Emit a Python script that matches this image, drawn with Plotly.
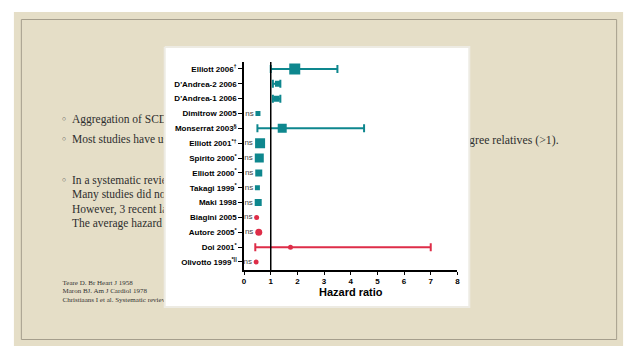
import plotly.graph_objects as go

# ---------------- data ----------------
studies = [
    "Elliott 2006<sup>†</sup>", "D'Andrea-2 2006", "D'Andrea-1 2006", "Dimitrow 2005",
    "Monserrat 2003<sup>§</sup>", "Elliott 2001<sup>*†</sup>", "Spirito 2000<sup>*</sup>",
    "Elliott 2000<sup>*</sup>", "Takagi 1999<sup>*</sup>", "Maki 1998", "Biagini 2005",
    "Autore 2005<sup>*</sup>", "Doi 2001<sup>*</sup>", "Olivotto 1999<sup>*||</sup>",
]
hazard_ratio = [1.9, 1.27, 1.22, 0.52, 1.43, 0.6, 0.57, 0.55, 0.5, 0.53, 0.47, 0.55, 1.74, 0.45]
ci_lower = [1.0, 1.08, 1.08, None, 0.5, None, None, None, None, None, None, None, 0.42, None]
ci_upper = [3.5, 1.36, 1.36, None, 4.5, None, None, None, None, None, None, None, 7.0, None]
study_group = ["A"] * 10 + ["B"] * 4
study_weight = [11, 6, 6, 5, 9, 10, 9, 7, 5, 7, 5, 7, 5, 5]
x_ticks = [0, 1, 2, 3, 4, 5, 6, 7, 8]

bullet_lines = ["Aggregation of SCD in", "Most studies have used", "In a systematic review"]
body_lines = ["Many studies did not", "However, 3 recent large", "The average hazard ratio"]
right_fragment = "first-degree relatives (>1)."
references = ["Teare D. Br Heart J 1958", "Maron BJ. Am J Cardiol 1978",
              "Christiaans I et al. Systematic review of"]

W, H = 638, 359
teal = "#0E878E"
red = "#DE2D48"
txt = "#2E2E2E"

fig = go.Figure()

# ---------- slide background (pixel-coordinate axes) ----------
fig.add_shape(type="rect", xref="x", yref="y", x0=12, x1=626, y0=12, y1=346,
              fillcolor="#E5DEC7", line=dict(width=0), layer="below")
fig.add_shape(type="rect", xref="x", yref="y", x0=19.5, x1=619.5, y0=19.5, y1=339.5,
              fillcolor="rgba(0,0,0,0)", line=dict(color="#A59E8C", width=1), layer="below")

fig.add_trace(go.Scatter(x=[62.5] * 3, y=[120, 140.5, 181], mode="text", text=["◦"] * 3,
                         textposition="middle center",
                         textfont=dict(family="DejaVu Sans", size=11, color="#555"),
                         hoverinfo="skip", xaxis="x", yaxis="y"))
fig.add_trace(go.Scatter(x=[70.5] * 6, y=[120, 140.5, 181, 195.5, 210, 224.5], mode="text",
                         text=bullet_lines + body_lines, textposition="middle right",
                         textfont=dict(family="Liberation Serif", size=11.5, color=txt),
                         hoverinfo="skip", xaxis="x", yaxis="y"))
fig.add_trace(go.Scatter(x=[561], y=[141], mode="text", text=[right_fragment],
                         textposition="middle left",
                         textfont=dict(family="Liberation Serif", size=11.8, color=txt),
                         hoverinfo="skip", xaxis="x", yaxis="y"))
fig.add_trace(go.Scatter(x=[61] * 3, y=[283, 291.5, 300], mode="text", text=references,
                         textposition="middle right",
                         textfont=dict(family="Liberation Serif", size=7, color="#333"),
                         hoverinfo="skip", xaxis="x", yaxis="y"))
# white image panel (covers part of the slide text)
fig.add_trace(go.Scatter(x=[164, 471, 471, 164, 164], y=[47, 47, 307, 307, 47], mode="lines",
                         fill="toself", fillcolor="white", line=dict(color="#EDEBE3", width=2),
                         hoverinfo="skip", xaxis="x", yaxis="y"))

# ---------- forest plot ----------
rows = list(range(len(studies)))
for grp, color, symbol in [("A", teal, "square"), ("B", red, "circle")]:
    idx_ci = [i for i in rows if study_group[i] == grp and ci_lower[i] is not None]
    idx_ns = [i for i in rows if study_group[i] == grp and ci_lower[i] is None]
    if idx_ci:
        fig.add_trace(go.Scatter(
            x=[hazard_ratio[i] for i in idx_ci], y=idx_ci, mode="markers",
            marker=dict(symbol=symbol, size=[study_weight[i] for i in idx_ci], color=color,
                        opacity=1, line=dict(width=0)),
            error_x=dict(type="data", symmetric=False,
                         array=[ci_upper[i] - hazard_ratio[i] for i in idx_ci],
                         arrayminus=[hazard_ratio[i] - ci_lower[i] for i in idx_ci],
                         color=color, thickness=2, width=4),
            hoverinfo="skip", xaxis="x2", yaxis="y2"))
    if idx_ns:
        fig.add_trace(go.Scatter(
            x=[hazard_ratio[i] for i in idx_ns], y=idx_ns, mode="markers+text",
            text=["ns"] * len(idx_ns), textposition="middle left",
            textfont=dict(family="Liberation Sans", size=8, color="#444"),
            marker=dict(symbol=symbol, size=[study_weight[i] for i in idx_ns], color=color,
                        opacity=1, line=dict(width=0)),
            hoverinfo="skip", xaxis="x2", yaxis="y2"))

fig.add_shape(type="line", xref="x2", yref="y2 domain", x0=1, x1=1, y0=0, y1=1,
              line=dict(color="black", width=1.5))

axfont = dict(family="Liberation Sans", size=8, color="black", weight="bold")
fig.update_layout(
    width=W, height=H, margin=dict(l=0, r=0, t=0, b=0),
    paper_bgcolor="white", plot_bgcolor="rgba(0,0,0,0)", showlegend=False,
    xaxis=dict(domain=[0, 1], range=[0, W], visible=False, fixedrange=True),
    yaxis=dict(domain=[0, 1], range=[H, 0], visible=False, fixedrange=True),
    xaxis2=dict(domain=[244 / W, 459 / W], anchor="y2", range=[0, 8], tickvals=x_ticks,
                showline=True, linecolor="black", linewidth=1.5, ticks="outside",
                ticklen=3, tickwidth=1.2, tickcolor="black", showgrid=False, zeroline=False,
                tickfont=axfont,
                title=dict(text="Hazard ratio", standoff=3,
                           font=dict(family="Liberation Sans", size=11, color="black",
                                     weight="bold"))),
    yaxis2=dict(domain=[1 - 270 / H, 1 - 62 / H], anchor="x2", range=[13.54, -0.47],
                tickvals=rows, ticktext=studies, showline=True, linecolor="black",
                linewidth=1.5, ticks="outside", ticklen=4, tickwidth=1.2, tickcolor="black",
                showgrid=False, zeroline=False, tickfont=axfont),
)

fig.write_html("out.html", config={"displayModeBar": False},
               post_script="document.body.style.margin='0';document.body.style.overflow='hidden';")
